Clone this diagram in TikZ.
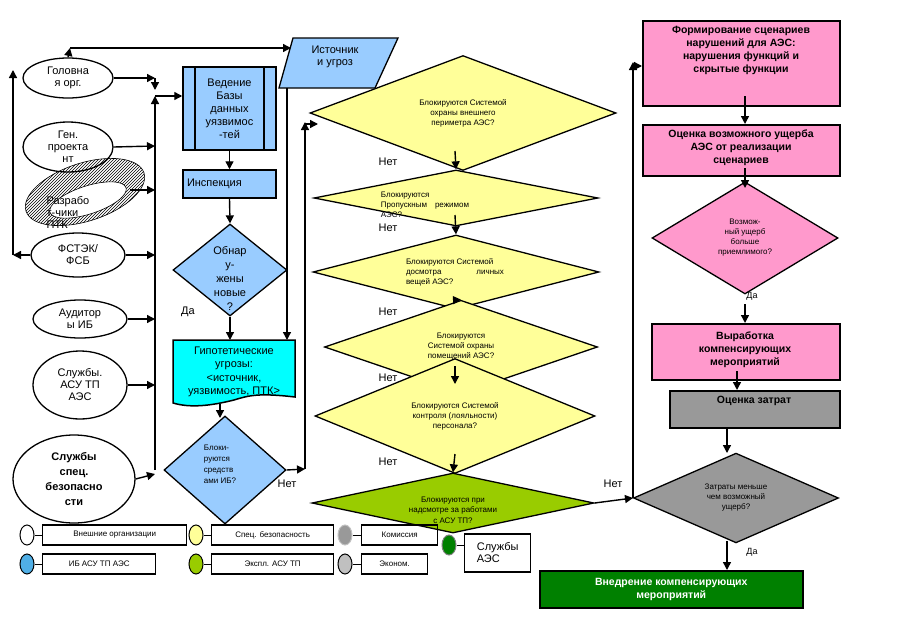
\documentclass[tikz,border=0pt]{standalone}
\usepackage{fontspec}
\setmainfont{Liberation Sans}
\usetikzlibrary{shapes.geometric,arrows.meta,patterns}
\definecolor{lblue}{RGB}{153,204,255}
\definecolor{lyel}{RGB}{255,255,153}
\definecolor{lgreen}{RGB}{153,204,0}
\definecolor{pink}{RGB}{255,153,204}
\definecolor{gr}{RGB}{153,153,153}
\definecolor{dgreen}{RGB}{0,128,0}
\definecolor{cyanc}{RGB}{0,255,255}
\definecolor{lgray}{RGB}{192,192,192}
\tikzset{
 ar/.style={line width=1.4pt,-{Triangle[length=8pt,width=8pt]}},
 ell/.style={ellipse,draw,line width=1.3pt,fill=white,inner sep=0pt,align=center,font=\fontsize{11}{12}\selectfont},
 box/.style={draw,line width=1.5pt,inner sep=1pt,align=center},
 dia/.style={diamond,draw,line width=1.3pt,inner sep=0pt,align=center,font=\fontsize{8}{10}\selectfont},
 lab/.style={font=\fontsize{11}{12}\selectfont},
 leg/.style={draw,line width=1.3pt,anchor=west,minimum height=20pt,inner sep=4pt,font=\fontsize{8}{9}\selectfont},
 legc/.style={ellipse,draw,line width=1pt,minimum width=14pt,minimum height=20pt,inner sep=0pt},
 rb/.style={box,fill=pink,anchor=north west},
 rt/.style={align=center,font=\bfseries\fontsize{10.5}{13}\selectfont},
}
\begin{document}
\begin{tikzpicture}[x=1pt,y=-1pt]
\useasboundingbox (0,0) rectangle (915,621);
% left ellipses
\node[ell,minimum width=90pt,minimum height=40pt] (gol) at (68,78) {Головна\\я орг.};
\node[ell,minimum width=90pt,minimum height=50pt] (gen) at (68,147) {Ген.\\проекта\\нт};
\fill[pattern=north east lines] [rotate around={18:(85,192)}] (85,192) ellipse [x radius=62pt,y radius=29pt];
\draw[line width=0.6pt] [rotate around={18:(85,192)}] (85,192) ellipse [x radius=62pt,y radius=29pt];
\fill[white] [rotate around={18:(88,200)}] (88,200) ellipse [x radius=40pt,y radius=14pt];
\draw[line width=0.6pt] [rotate around={18:(88,200)}] (88,200) ellipse [x radius=40pt,y radius=14pt];
\node[lab,align=left] (raz) at (68,212) {Разрабо\\т-чики\\ПТК};
\coordinate (razr) at (130,190);
\node[ell,minimum width=94pt,minimum height=44pt] (fst) at (78,255) {ФСТЭК/\\ФСБ};
\node[ell,minimum width=94pt,minimum height=38pt] (aud) at (80,319) {Аудитор\\ы ИБ};
\node[ell,minimum width=94pt,minimum height=68pt] (asu) at (80,385) {Службы.\\АСУ ТП\\АЭС};
\node[ell,minimum width=122pt,minimum height=88pt,font=\bfseries\fontsize{11}{15}\selectfont] (spe) at (74,479) {Службы\\спец.\\безопасно\\сти};
% left bus
\coordinate (bt) at (155,96);
\draw[ar] (fst.west) -- (13,255);
\draw[ar] (13,255) -- (13,70);
\draw[ar] (gol.north) -- (70,48);
\draw[ar] (gol.east) -- (155,78);
\draw[ar] (155,78) -- (155,90);
\draw[ar] (155,470) -- (bt);
\draw[ar] (gen.east) -- (155,146);
\draw[ar] (razr) -- (155,190);
\draw[ar] (fst.east) -- (155,255);
\draw[ar] (aud.east) -- (155,319);
\draw[ar] (asu.east) -- (155,385);
\draw[ar] (spe.east) -- (155,474);
% middle column
\node[box,fill=lblue,minimum width=93pt,minimum height=83pt,font=\fontsize{11}{13}\selectfont] (ved) at (229.5,108.5) {Ведение\\Базы\\данных\\уязвимос\\-тей};
\draw[line width=1.3pt] (195,67)--(195,150) (264,67)--(264,150);
\draw[ar] (bt) -- (ved.west|-bt);
\node[box,fill=lblue,minimum width=93pt,minimum height=28pt,font=\fontsize{11}{12}\selectfont,text width=85pt,align=left] (ins) at (229.5,184) {Инспекция};
\draw[ar] (ved.south) -- (ins.north);
\node[dia,fill=lblue,minimum width=114pt,minimum height=92pt] (obn) at (230,270) {};
\node[align=center,font=\fontsize{11}{14}\selectfont] at (230,278) {Обнар\\у-\\жены\\новые\\?};
\draw[ar] (ins.south) -- (obn.north);
\node[lab] at (188,312) {Да};
\draw[line width=1.3pt,fill=lblue] (293,38) -- (398,38) -- (375,88) -- (279,88) -- cycle;
\node[lab,align=center] (ist) at (335,57) {Источник\\и угроз};
\coordinate (istw) at (291,48);
\draw[ar] (70,48) -- (istw);
% hypothetical box with wavy bottom
\draw[line width=1.5pt,fill=cyanc] (173,340) -- (295,340) -- (295,397) .. controls (260,393) and (250,395) .. (234,400) .. controls (210,406) and (190,408) .. (173,403) -- cycle;
\node[align=center,font=\fontsize{11}{13.5}\selectfont] (hyp) at (234,372) {Гипотетические\\угрозы:\\<источник,\\уязвимость, ПТК>};
\coordinate (hypt) at (230,340);
\coordinate (hypb) at (220,404);
\draw[ar] (obn.south) -- (hypt);
\draw[ar] (287,88) -- (287,340);
\node[dia,fill=lblue,minimum width=122pt,minimum height=108pt] (blk) at (225,470) {};
\node[align=left,font=\fontsize{8}{11}\selectfont] at (220,464) {Блоки-\\руются\\средств\\ами ИБ?};
\draw[ar] (hypb) -- (220,418);
\node[lab] at (287,484) {Нет};
\draw[ar] (blk.east) -- (305,469);
\draw[ar] (305,469) -- (305,122);
\draw[ar] (305,124) -- (318,124);
% yellow diamonds
\node[dia,fill=lyel,minimum width=306pt,minimum height=76pt] (d1) at (463,113) {Блокируются  Системой\\охраны внешнего\\периметра АЭС?};
\node[dia,fill=lyel,minimum width=284pt,minimum height=56pt] (d2) at (456,198) {};
\node[align=left,font=\fontsize{8}{10}\selectfont] at (425,205) {Блокируются\\Пропускным\quad режимом\\АЭС?};
\node[dia,fill=lyel,minimum width=286pt,minimum height=74pt] (d3) at (456,272) {};
\node[align=left,font=\fontsize{8}{10}\selectfont] at (455,272) {Блокируются  Системой\\досмотра\hspace{35pt}личных\\вещей АЭС?};
\node[dia,fill=lyel,minimum width=273pt,minimum height=56pt] (d4) at (461,347) {Блокируются\\Системой охраны\\помещений  АЭС?};
\node[dia,fill=lyel,minimum width=280pt,minimum height=76pt] (d5) at (455,416) {Блокируются  Системой\\контроля (лояльности)\\персонала?};
\node[dia,fill=lgreen,minimum width=282pt,minimum height=60pt] (d6) at (453,503) {};
\node[align=center,font=\fontsize{8}{10.5}\selectfont] at (453,510) {Блокируются  при\\надсмотре за работами\\с АСУ ТП?};
\draw[ar] (455,151) -- (d2.north);
\draw[ar] (455,215) -- (d3.north);
\draw[ar] (455,300) -- (d4.north);
\draw[ar] (455,366) -- (455,384);
\draw[ar] (455,454) -- (d6.north);
\foreach \y in {162,228,312,378,462} \node[lab] at (388,\y) {Нет};
% right column
\node[rb,minimum width=197pt,minimum height=85pt] (form) at (642,20) {};
\node[rt] at (741,50) {Формирование сценариев\\нарушений для АЭС:\\нарушения функций и\\скрытые функции};
\node[rb,minimum width=197pt,minimum height=51pt] (ush) at (642,124) {};
\node[rt] at (741,148) {Оценка возможного ущерба\\АЭС  от реализации\\сценариев};
\draw[ar] (745,96) -- (ush.north-|745,0);
\node[dia,fill=pink,minimum width=186pt,minimum height=112pt] (vd) at (745,238) {Возмож-\\ный ущерб\\больше\\приемлимого?};
\draw[ar] (745,168) -- (745,188);
\node[lab,font=\fontsize{9}{10}\selectfont] at (752,296) {Да};
\node[rb,minimum width=188pt,minimum height=56pt] (vyr) at (651,323) {};
\node[rt] at (745,350) {Выработка\\компенсирующих\\мероприятий};
\draw[ar] (745,304) -- (vyr.north-|745,0);
\node[box,fill=gr,anchor=north west,minimum width=170pt,minimum height=37pt] (zat) at (669,390) {};
\node[rt] at (754,401) {Оценка затрат};
\draw[ar] (737,371) -- (zat.north-|737,0);
\node[dia,fill=gr,minimum width=205pt,minimum height=86pt] (gd) at (736,498) {Затраты меньше\\чем возможный\\ущерб?};
\draw[ar] (727,427) -- (727,453);
\node[lab,font=\fontsize{9}{10}\selectfont] at (752,552) {Да};
\node[box,fill=dgreen,anchor=north west,minimum width=263pt,minimum height=37pt,text=white,font=\bfseries\fontsize{10.5}{13}\selectfont] (vne) at (539,570) {Внедрение компенсирующих\\мероприятий};
\draw[ar] (727,541) -- (vne.north-|727,0);
\draw[ar] (d6.east) -- (633,498);
\node[lab] at (613,484) {Нет};
\draw[ar] (633,498) -- (633,62);
\draw[ar] (633,66) -- (form.west|-0,66);
% legend
\node[legc,fill=white] (l1) at (27,535) {};
\node[leg,minimum width=144pt] (t1) at (42,535) {Внешние организации};
\node[legc,fill=lyel] (l2) at (196,535) {};
\node[leg,minimum width=122pt] (t2) at (211,535) {Спец. безопасность};
\node[legc,fill=gr,draw=gr!60] (l3) at (345,535) {};
\node[leg,minimum width=76pt] (t3) at (361,535) {Комиссия};
\node[legc,fill=cyan!80!blue!70] (l4) at (27,564) {};
\node[leg,minimum width=113pt] (t4) at (42,564) {ИБ АСУ ТП АЭС};
\node[legc,fill=lgreen] (l5) at (196,564) {};
\node[leg,minimum width=122pt] (t5) at (211,564) {Экспл. АСУ ТП};
\node[legc,fill=lgray] (l6) at (345,564) {};
\node[leg,minimum width=66pt] (t6) at (361,564) {Эконом.};
\node[legc,fill=dgreen,draw=gray] (l7) at (449,545) {};
\node[leg,minimum width=66pt,minimum height=38pt,align=left,font=\fontsize{11}{12}\selectfont] (t7) at (464,553) {Службы\\АЭС};
\foreach \a/\b in {l1/t1,l2/t2,l3/t3,l4/t4,l5/t5,l6/t6,l7/t7} \draw[line width=1pt] (\a.east) -- (\b.west|-\a.east);
\end{tikzpicture}
\end{document}
